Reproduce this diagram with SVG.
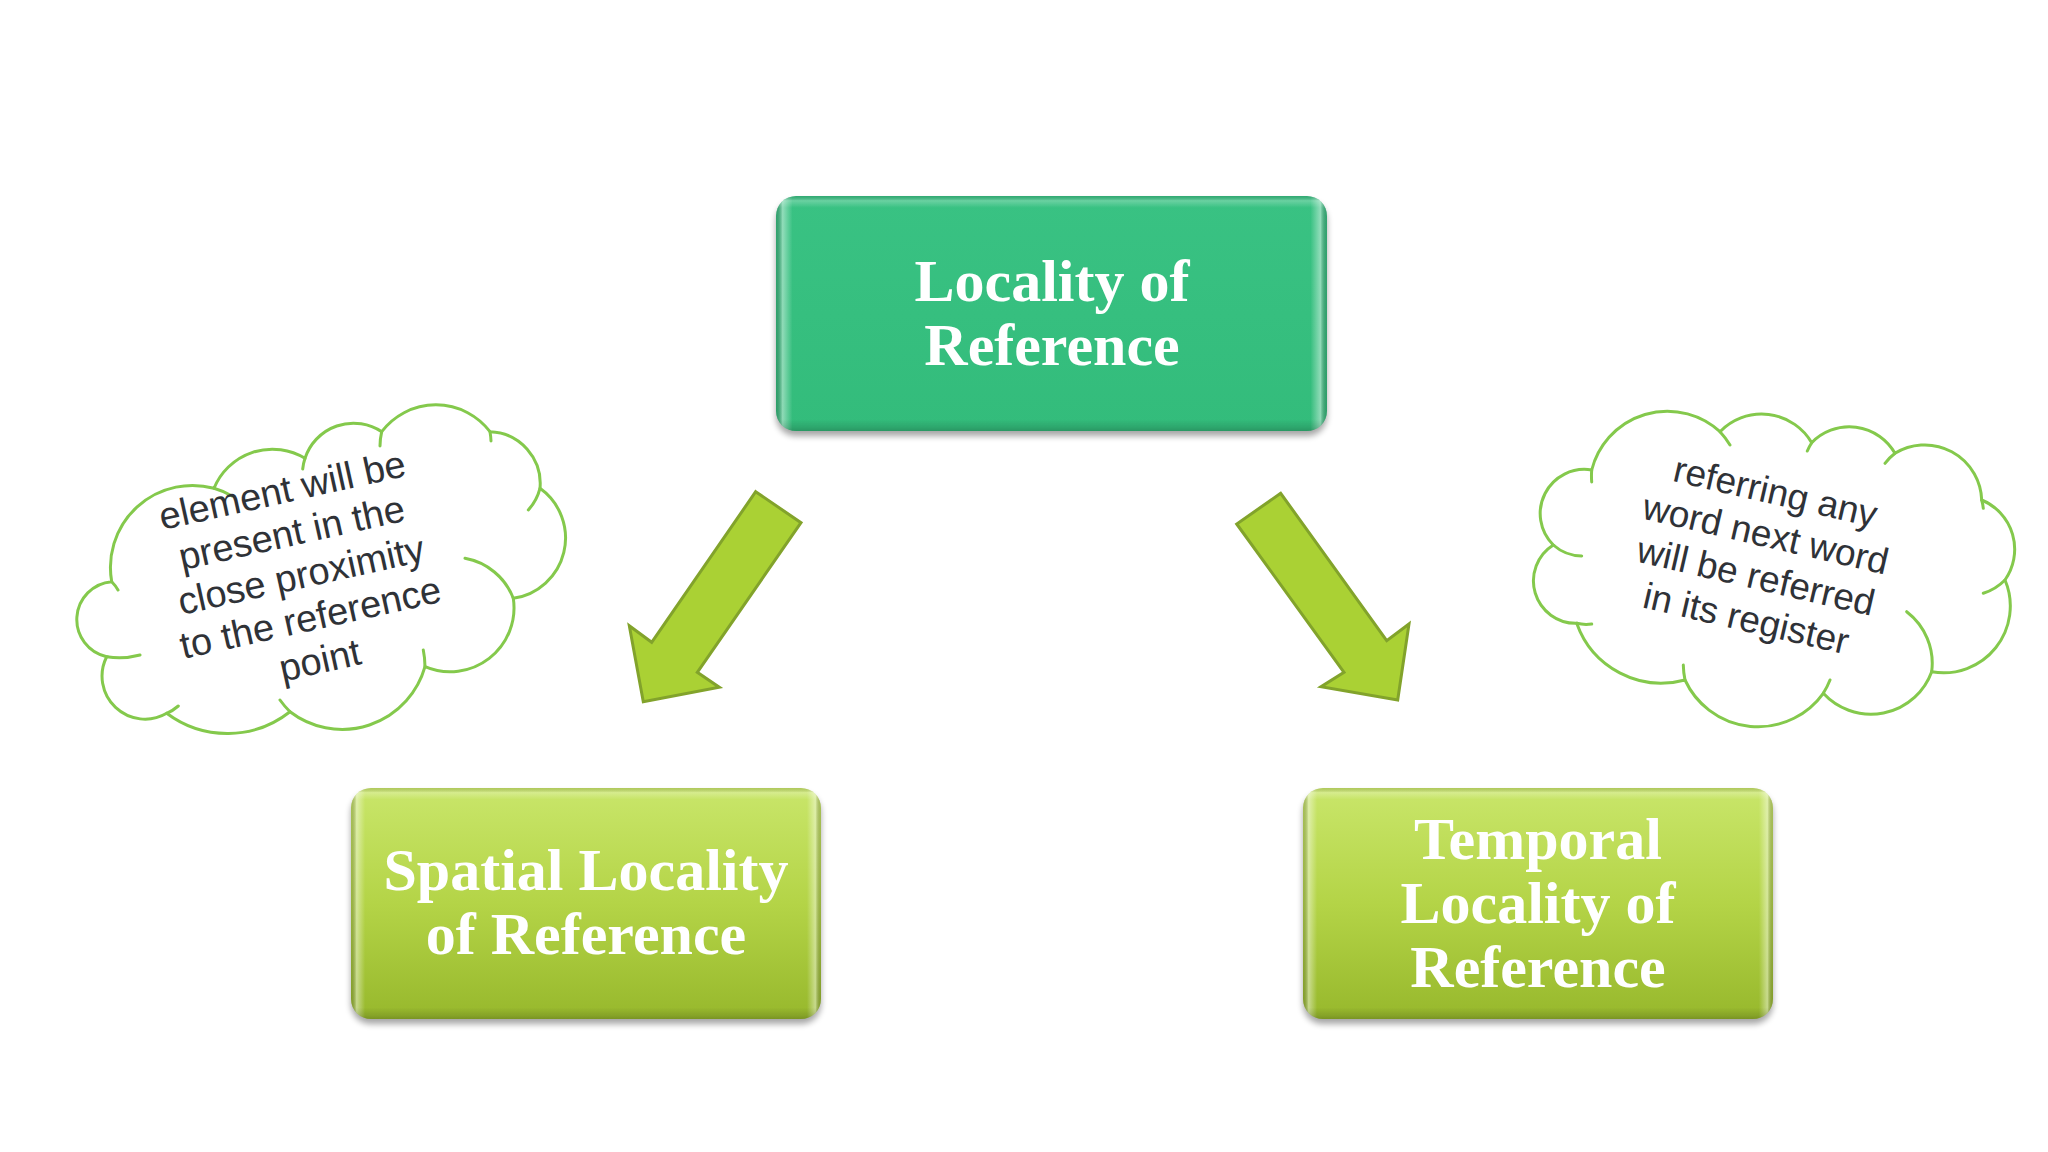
<svg xmlns="http://www.w3.org/2000/svg" width="2048" height="1152" viewBox="0 0 2048 1152">
<defs>
<style>
.btxt{font-family:"Liberation Serif","Times New Roman",serif;font-weight:bold;font-size:60px;fill:#ffffff;text-anchor:middle}
.ctxt{font-family:"Liberation Sans",Arial,sans-serif;font-size:38px;fill:#2f3237;text-anchor:middle}
.cloud{fill:#ffffff;stroke:#84C94C;stroke-width:3}
.cin{fill:none;stroke:#84C94C;stroke-width:3;stroke-linecap:round}
.arrow{fill:#AAD134;stroke:#82A32B;stroke-width:3;stroke-linejoin:miter}
.shadow{fill:#000;opacity:.35}
</style>
<filter id="sh" x="-10%" y="-10%" width="120%" height="130%"><feGaussianBlur stdDeviation="3"/></filter>
<linearGradient id="gTeal" x1="0" y1="0" x2="0" y2="1"><stop offset="0" stop-color="#39C283"/><stop offset="1" stop-color="#33BC7B"/></linearGradient>
<linearGradient id="gLime" x1="0" y1="0" x2="0" y2="1"><stop offset="0" stop-color="#C9E66A"/><stop offset="0.5" stop-color="#B4D447"/><stop offset="1" stop-color="#97B82C"/></linearGradient>
<linearGradient id="edgeH" x1="0" y1="0" x2="1" y2="0"><stop offset="0" stop-color="#000" stop-opacity=".15"/><stop offset=".012" stop-color="#fff" stop-opacity=".45"/><stop offset=".03" stop-color="#fff" stop-opacity="0"/><stop offset=".97" stop-color="#fff" stop-opacity="0"/><stop offset=".988" stop-color="#fff" stop-opacity=".45"/><stop offset="1" stop-color="#000" stop-opacity=".15"/></linearGradient>
<linearGradient id="edgeV" x1="0" y1="0" x2="0" y2="1"><stop offset="0" stop-color="#000" stop-opacity=".12"/><stop offset=".02" stop-color="#fff" stop-opacity=".25"/><stop offset=".05" stop-color="#fff" stop-opacity="0"/><stop offset=".95" stop-color="#000" stop-opacity="0"/><stop offset=".985" stop-color="#000" stop-opacity=".12"/><stop offset="1" stop-color="#000" stop-opacity=".2"/></linearGradient>
</defs>
<rect width="2048" height="1152" fill="#ffffff"/>

<g id="connectors">
<polygon class="arrow" points="755.7,491.7 801,522.7 697.3,672.3 719.3,687.3 643.3,701.7 629.3,625.7 651.7,642.3"/>
<polygon class="arrow" points="1280.7,493.3 1236.7,524 1344,672.3 1321,686.7 1397.7,700 1409,624 1386.7,640.7"/>
</g>

<g id="node-locality">
<rect class="shadow" x="776" y="201" width="551" height="235" rx="20" filter="url(#sh)"/>
<rect x="776" y="196" width="551" height="235" rx="20" fill="url(#gTeal)"/>
<rect x="776" y="196" width="551" height="235" rx="20" fill="url(#edgeH)"/>
<rect x="776" y="196" width="551" height="235" rx="20" fill="url(#edgeV)"/>
<text class="btxt" x="1052" y="301">Locality of</text>
<text class="btxt" x="1052" y="365">Reference</text>
</g>

<g id="node-spatial">
<rect class="shadow" x="351" y="793" width="470" height="231" rx="20" filter="url(#sh)"/>
<rect x="351" y="788" width="470" height="231" rx="20" fill="url(#gLime)"/>
<rect x="351" y="788" width="470" height="231" rx="20" fill="url(#edgeH)"/>
<rect x="351" y="788" width="470" height="231" rx="20" fill="url(#edgeV)"/>
<text class="btxt" x="586" y="890">Spatial Locality</text>
<text class="btxt" x="586" y="954">of Reference</text>
</g>

<g id="node-temporal">
<rect class="shadow" x="1303" y="793" width="470" height="231" rx="20" filter="url(#sh)"/>
<rect x="1303" y="788" width="470" height="231" rx="20" fill="url(#gLime)"/>
<rect x="1303" y="788" width="470" height="231" rx="20" fill="url(#edgeH)"/>
<rect x="1303" y="788" width="470" height="231" rx="20" fill="url(#edgeV)"/>
<text class="btxt" x="1538" y="859">Temporal</text>
<text class="btxt" x="1538" y="923">Locality of</text>
<text class="btxt" x="1538" y="987">Reference</text>
</g>

<g id="node-cloud-spatial">
<path class="cloud" d="M111.7,581.7 A82,82 0 0 1 214,488.3 A63,63 0 0 1 305,458.3 A51,51 0 0 1 381.7,431.7 A68,68 0 0 1 490,431.7 A52,52 0 0 1 540,488.3 A61,61 0 0 1 513.3,598.3 A64,64 0 0 1 425,666.7 A86,86 0 0 1 290,711.7 A101,101 0 0 1 166.7,713.3 A43,43 0 0 1 106.7,656.7 A38,38 0 0 1 111.7,581.7 Z"/>
<path class="cin" d="M111.7,581.7 A38,38 0 0 1 118,590 M214,488.3 A82,82 0 0 1 232,496 M305,458.3 A51,51 0 0 0 302.7,469 M381.7,431.7 A68,68 0 0 0 380,446 M490,431.7 A68,68 0 0 1 491,441 M540,488.3 A52,52 0 0 1 528.3,510 M513.3,598.3 A64,64 0 0 0 465,558.3 M425,666.7 A86,86 0 0 0 423.3,650 M290,711.7 A86,86 0 0 1 280,700 M166.7,713.3 A43,43 0 0 0 178.3,706 M106.7,656.7 A80,80 0 0 0 140,655"/>
<g transform="translate(303.8,587.8) rotate(-12.5)">
<text class="ctxt" x="0" y="-87">element will be</text>
<text class="ctxt" x="0" y="-43.5">present in the</text>
<text class="ctxt" x="0" y="0">close proximity</text>
<text class="ctxt" x="0" y="43.5">to the reference</text>
<text class="ctxt" x="0" y="87">point</text>
</g>
</g>

<g id="node-cloud-temporal">
<path class="cloud" d="M1591.7,470 A78,78 0 0 1 1720,431.7 A58,58 0 0 1 1811.7,442.7 A52.5,52.5 0 0 1 1895,453.3 A57,57 0 0 1 1981.7,500 A53.4,53.4 0 0 1 2005,580 A66.7,66.7 0 0 1 1931.7,671.7 A64.7,64.7 0 0 1 1823.3,693.3 A80.4,80.4 0 0 1 1685,680 A89.8,89.8 0 0 1 1576.7,623.3 A42.4,42.4 0 0 1 1553.3,545 A44.2,44.2 0 0 1 1591.7,470 Z"/>
<path class="cin" d="M1591.7,470 A78,78 0 0 0 1591.7,482 M1720,431.7 A78,78 0 0 1 1730,445 M1811.7,442.7 A52,52 0 0 0 1807.3,451 M1895,453.3 A57,57 0 0 0 1885,463.3 M1981.7,500 A57,57 0 0 1 1983.3,508.3 M2005,580 A53,53 0 0 1 1983.3,593.3 M1931.7,671.7 A65,65 0 0 0 1906.7,611.7 M1823.3,693.3 A80,80 0 0 0 1830,680 M1685,680 A80,80 0 0 1 1683.3,665 M1576.7,623.3 A42,42 0 0 0 1591.7,624 M1553.3,545 A44,44 0 0 0 1581.7,556"/>
<g transform="translate(1758,567.5) rotate(13)">
<text class="ctxt" x="0" y="-65" style="font-size:37px">referring any</text>
<text class="ctxt" x="0" y="-21.7" style="font-size:37px">word next word</text>
<text class="ctxt" x="0" y="21.7" style="font-size:37px">will be referred</text>
<text class="ctxt" x="0" y="65" style="font-size:37px">in its register</text>
</g>
</g>
</svg>
